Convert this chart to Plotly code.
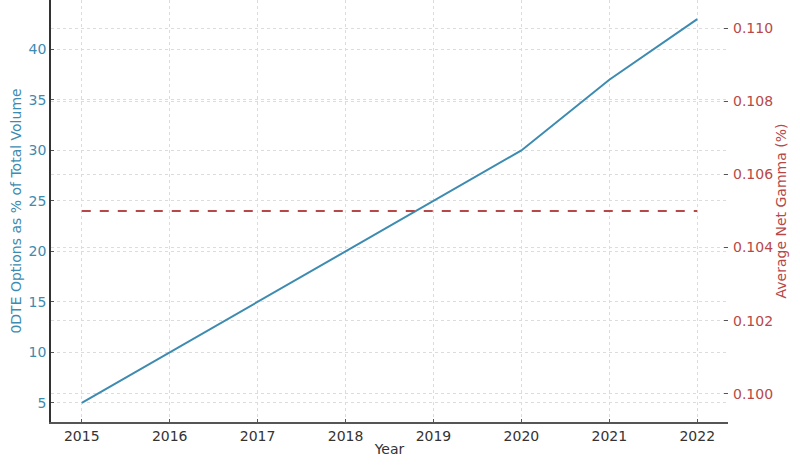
import plotly.graph_objects as go

years = [2015, 2016, 2017, 2018, 2019, 2020, 2021, 2022]
odte_share = [5, 10, 15, 20, 25, 30, 37, 43]
net_gamma = [0.105, 0.105, 0.105, 0.105, 0.105, 0.105, 0.105, 0.105]

blue = "#3d8bb0"
red = "#b84848"
font = "DejaVu Sans"

fig = go.Figure()
fig.add_trace(go.Scatter(x=years, y=odte_share, mode="lines",
                         line=dict(color=blue, width=2), name="0DTE share"))
fig.add_trace(go.Scatter(x=years, y=net_gamma, mode="lines", yaxis="y2",
                         line=dict(color=red, width=2, dash="dash"), name="Net gamma"))

grid = dict(showgrid=True, gridcolor="#dcdcdc", griddash="dot", gridwidth=1)

fig.update_layout(
    width=800, height=469,
    margin=dict(l=51, r=72, t=0, b=47, autoexpand=False),
    paper_bgcolor="white", plot_bgcolor="white",
    showlegend=False,
    font=dict(family=font, size=14, color="#333333"),
    xaxis=dict(
        title=dict(text="Year", font=dict(size=14, color="#333333"), standoff=1),
        range=[2014.65, 2022.35], tickvals=years, ticktext=[str(y) for y in years],
        showline=True, linecolor="#555555", linewidth=2,
        ticks="inside", ticklen=3, tickcolor="#555555",
        zeroline=False, **grid),
    yaxis=dict(
        title=dict(text="0DTE Options as % of Total Volume", font=dict(size=14, color=blue), standoff=4),
        range=[3.1, 44.9], tickvals=[5, 10, 15, 20, 25, 30, 35, 40],
        tickfont=dict(color=blue, size=14),
        showline=True, linecolor="#333333", linewidth=1.5,
        ticks="inside", ticklen=3, tickcolor="#555555",
        zeroline=False, **grid),
    yaxis2=dict(
        title=dict(text="Average Net Gamma (%)", font=dict(size=14, color=red), standoff=1),
        overlaying="y", side="right",
        range=[0.099225, 0.110775],
        tickvals=[0.100, 0.102, 0.104, 0.106, 0.108, 0.110], tickformat=".3f",
        tickfont=dict(color=red, size=14), ticklabelstandoff=4,
        showline=False, ticks="inside", ticklen=4, tickcolor="#555555",
        zeroline=False, **grid),
)

fig.write_html("out.html", config={"displayModeBar": False},
               post_script="document.body.style.margin='0';")
